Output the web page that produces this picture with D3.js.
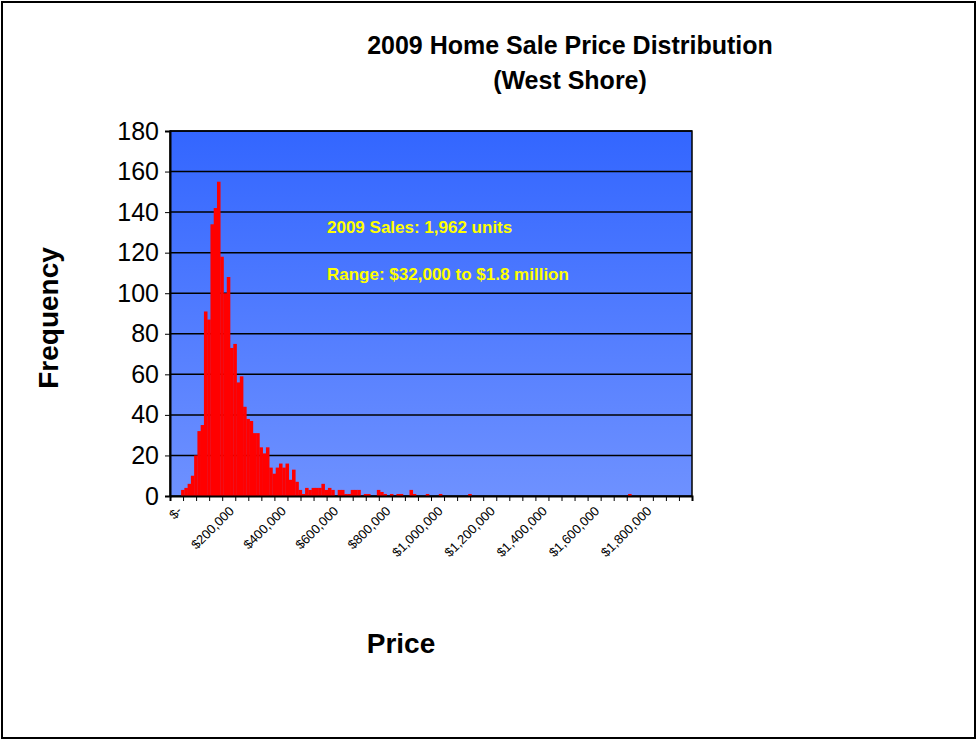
<!DOCTYPE html>
<html>
<head>
<meta charset="utf-8">
<script src="https://cdn.jsdelivr.net/npm/d3@7"></script>
<style>
  body { margin: 0; background: #fff; }
  text { font-family: Arial, "Liberation Sans", sans-serif; }
</style>
</head>
<body>
<svg></svg>
<script>
// histogram bins of $12,500, first bin starting at $42,500
let binWidth = 12500
let firstBin = 42500
let counts = [3, 4, 6, 10, 20, 32, 35, 91, 87, 134, 142, 155, 118, 100, 108, 73, 75, 56, 59, 44,
              38, 37, 31, 31, 24, 21, 24, 14, 11, 14, 16, 14, 16, 8, 13, 7, 3, 1, 4, 3,
              4, 4, 4, 6, 3, 4, 3, 0, 3, 3, 1, 1, 3, 3, 3, 0, 1, 1, 0, 0,
              3, 2, 1, 0, 1, 0, 1, 1, 0, 0, 3, 1, 0, 0, 0, 1, 0, 0, 0, 1]
// sparse high-end sales: bin index and count
let tailBins = [88, 137]
let tailCounts = [1, 1]

let yTicks = [0, 20, 40, 60, 80, 100, 120, 140, 160, 180]
let xTicks = [0, 200000, 400000, 600000, 800000, 1000000, 1200000, 1400000, 1600000, 1800000]

let width = 978
let height = 741
let plotLeft = 170, plotRight = 692, plotTop = 131, plotBottom = 496

let svg = d3.select('svg').attr('width', width).attr('height', height)

svg.append('rect').attr('x', 2).attr('y', 2).attr('width', 973).attr('height', 736)
   .attr('fill', '#fff').attr('stroke', '#000').attr('stroke-width', 2)

let bins = counts.map((c, i) => ({ i: i, c: c }))
tailBins.forEach((b, k) => bins.push({ i: b, c: tailCounts[k] }))

let xScale = d3.scaleLinear().domain([0, 2000000]).range([plotLeft, plotRight])
let yScale = d3.scaleLinear().domain([0, 180]).range([plotBottom, plotTop])

let grad = svg.append('defs').append('linearGradient').attr('id', 'bg')
  .attr('x1', 0).attr('y1', 0).attr('x2', 0).attr('y2', 1)
grad.append('stop').attr('offset', 0).attr('stop-color', '#3366ff')
grad.append('stop').attr('offset', 1).attr('stop-color', '#6e91ff')

svg.append('rect').attr('x', plotLeft).attr('y', plotTop)
   .attr('width', plotRight - plotLeft).attr('height', plotBottom - plotTop)
   .attr('fill', 'url(#bg)').attr('stroke', '#000').attr('stroke-width', 1.5)

svg.append('g').selectAll('line').data(yTicks.slice(1)).join('line')
   .attr('x1', plotLeft).attr('x2', plotRight)
   .attr('y1', d => yScale(d)).attr('y2', d => yScale(d))
   .attr('stroke', '#000').attr('stroke-width', 1.5)

svg.append('g').selectAll('rect').data(bins.filter(d => d.c > 0)).join('rect')
   .attr('x', d => xScale(firstBin + d.i * binWidth))
   .attr('width', xScale(binWidth) - xScale(0) + 0.3)
   .attr('y', d => yScale(d.c))
   .attr('height', d => yScale(0) - yScale(d.c))
   .attr('fill', '#ff0000')

let yAxis = d3.axisLeft(yScale).tickValues(yTicks).tickSize(5).tickPadding(6)
svg.append('g').attr('transform', `translate(${plotLeft},0)`).call(yAxis)
   .call(g => g.select('.domain').attr('stroke-width', 2))
   .call(g => g.selectAll('text').attr('font-size', 25).attr('fill', '#000'))

let minor = d3.range(0, 2000001, 50000)
let xAxis = d3.axisBottom(xScale).tickValues(minor).tickSize(5)
  .tickFormat(d => xTicks.includes(d) ? (d === 0 ? '$-' : d3.format('$,')(d)) : '')
svg.append('g').attr('transform', `translate(0,${plotBottom})`).call(xAxis)
   .call(g => g.select('.domain').attr('stroke-width', 2))
   .call(g => g.selectAll('text').attr('font-size', 13).attr('fill', '#000')
      .attr('text-anchor', 'end').attr('dx', '-0.2em').attr('dy', '0.9em')
      .attr('transform', 'rotate(-45)'))

svg.append('text').attr('x', 570).attr('y', 54).attr('text-anchor', 'middle')
   .attr('font-size', 25).attr('font-weight', 'bold').text('2009 Home Sale Price Distribution')
svg.append('text').attr('x', 570).attr('y', 89).attr('text-anchor', 'middle')
   .attr('font-size', 25).attr('font-weight', 'bold').text('(West Shore)')

svg.append('text').attr('transform', 'translate(58,318) rotate(-90)').attr('text-anchor', 'middle')
   .attr('font-size', 28).attr('font-weight', 'bold').text('Frequency')
svg.append('text').attr('x', 401).attr('y', 653).attr('text-anchor', 'middle')
   .attr('font-size', 28).attr('font-weight', 'bold').text('Price')

svg.append('text').attr('x', 327).attr('y', 233).attr('fill', '#ffff00')
   .attr('font-size', 17).attr('font-weight', 'bold').text('2009 Sales: 1,962 units')
svg.append('text').attr('x', 327).attr('y', 280).attr('fill', '#ffff00')
   .attr('font-size', 17).attr('font-weight', 'bold').text('Range: $32,000 to $1.8 million')
</script>
</body>
</html>
